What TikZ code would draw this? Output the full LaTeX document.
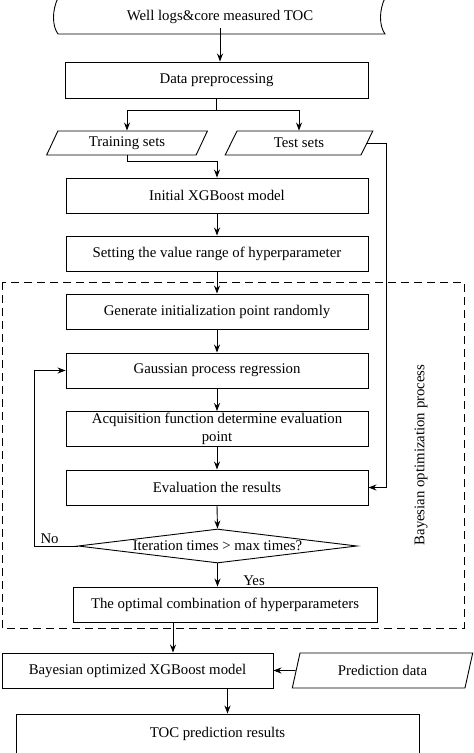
\documentclass[tikz,border=0pt]{standalone}
\usepackage{fontspec}
\setmainfont{Liberation Serif}
\usepackage{tikz}
\usetikzlibrary{arrows.meta,positioning,shapes.geometric,calc}

\begin{document}
\begin{tikzpicture}[
    x=1pt, y=-1pt,
    line width=0.9pt,
    font=\fontsize{14.8}{17}\selectfont,
    proc/.style={draw, minimum width=302pt, minimum height=35pt, inner sep=2pt, align=center},
    io/.style={draw, trapezium, trapezium left angle=67, trapezium right angle=113, trapezium stretches=true, minimum height=24pt, inner sep=1pt},
    decide/.style={draw, diamond, aspect=8, inner sep=0pt, minimum width=279pt, minimum height=34pt},
    bopt/.style={dash pattern=on 8pt off 5pt, line width=0.8pt},
    >={Stealth[length=8pt,width=6pt]}
  ]
  \useasboundingbox (0,0) rectangle (474,753);

  % Input data
  \node (src) at (220,17) {Well logs\&core measured TOC};
  \draw (58,-2) .. controls (52,10) and (52,26) .. (58,34) -- (385,34)
        .. controls (379,26) and (379,10) .. (385,-2);
  \node[proc, minimum width=303pt, minimum height=36pt] (prep) at (216.5,80) {Data preprocessing};
  \node[io, minimum width=162pt] (train) at (127,143) {Training sets};
  \node[io, minimum width=148pt] (test) at (299,143) {Test sets};
  \node[proc] (init) at (217,195.5) {Initial XGBoost model};
  \node[proc] (range) at (217,253.5) {Setting the value range of hyperparameter};

  % Bayesian optimization
  \draw[bopt] (2,282) rectangle (464,628);
  \node[rotate=90] (blabel) at (421,455) {Bayesian optimization process};
  \node[proc] (gen) at (217,311.5) {Generate initialization point randomly};
  \node[proc] (gpr) at (217,370.5) {Gaussian process regression};
  \node[proc, font=\fontsize{14.8}{18}\selectfont, inner sep=0pt] (acq) at (217,429) {Acquisition function determine evaluation\\point};
  \node[proc] (eval) at (217,487.5) {Evaluation the results};
  \node[decide] (iter) at (217.5,546) {\makebox[0pt]{Iteration times > max times?}};
  \node[proc, minimum width=304pt] (opt) at (225,604.5) {The optimal combination of hyperparameters};

  % Prediction
  \node[proc, minimum width=271pt] (bayes) at (137.5,670.5) {Bayesian optimized XGBoost model};
  \node[io, trapezium left angle=71, trapezium right angle=109, minimum width=181pt, minimum height=35pt] (pred) at (382.5,670.5) {Prediction data};
  \node[proc, minimum width=403pt, minimum height=39pt] (toc) at (217.5,733.5) {TOC prediction results};

  % Connectors
  \draw[->] (src.south) -- (src.south |- prep.north);
  \draw[->] (prep.south) -- ++(0,12) -| (train.north);
  \draw[->] (prep.south) -- ++(0,12) -| (test.north);
  \draw[->] (train.south) -- ++(0,6) -| (init.north);
  \draw[->] (test.east) -- ++(19,0) |- (eval.east);
  \foreach \a/\b in {init/range, range/gen, gen/gpr, gpr/acq, acq/eval, eval/iter} {
    \draw[->] (\a.south) -- (\b.north);
  }
  \draw[->] (iter.west) -- node[pos=0.65, above=-1pt] {No} ++(-43,0) |- (gpr.west);
  \draw[->] (iter.south) -- node[pos=0.75, right=22pt] {Yes} (iter.south |- opt.north);
  \draw[->] ([xshift=-52pt]opt.south) -- ([xshift=-52pt]opt.south |- bayes.north);
  \draw[->] (pred.west) -- (bayes.east);
  \draw[->] ([xshift=90pt]bayes.south) -- ([xshift=90pt]bayes.south |- toc.north);
\end{tikzpicture}
\end{document}
